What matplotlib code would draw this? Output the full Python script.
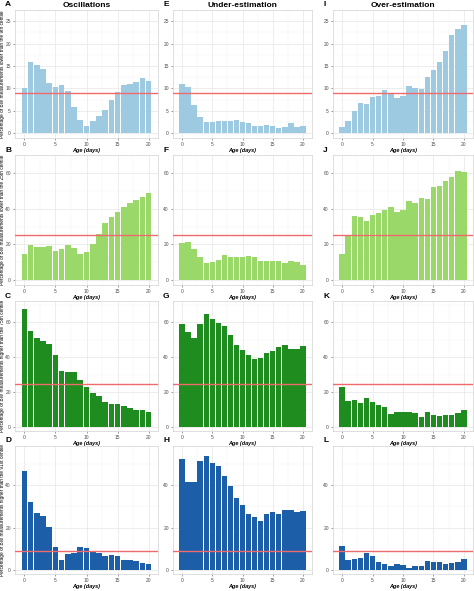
import numpy as np
import matplotlib
matplotlib.use("Agg")
import matplotlib.pyplot as plt

plt.rcParams['font.family'] = ['Liberation Sans', 'DejaVu Sans']

# Data (percentages by age in days)
age = list(range(21))

osc_9 = [10.1, 15.8, 15.2, 14.3, 11.2, 10.2, 10.8, 9.3, 5.9, 3.0, 1.5, 2.6, 3.8, 5.2, 7.3, 9.2, 10.8, 11.0, 11.5, 12.4, 11.7]
under_9 = [11.0, 10.4, 6.2, 3.7, 2.4, 2.4, 2.8, 2.6, 2.6, 2.9, 2.4, 2.2, 1.5, 1.5, 1.7, 1.5, 1.1, 1.3, 2.2, 1.3, 1.5]
over_9 = [1.25, 2.8, 5.0, 6.8, 6.5, 8.1, 8.3, 9.7, 8.9, 7.8, 8.2, 10.5, 10.0, 9.9, 12.5, 14.2, 15.9, 18.3, 21.9, 23.3, 24.2]

osc_25 = [14.5, 19.5, 18.7, 18.4, 19.3, 16.5, 17.5, 19.6, 18.2, 14.4, 15.5, 20.0, 25.8, 32.2, 35.1, 38.2, 40.9, 43.3, 44.7, 46.7, 48.7]
under_25 = [20.9, 21.5, 17.3, 13.1, 9.6, 10.0, 11.5, 13.8, 13.1, 13.1, 12.7, 13.6, 13.1, 10.5, 10.9, 10.5, 10.9, 9.6, 10.5, 10.4, 8.7]
over_25 = [14.9, 25.0, 35.8, 35.6, 33.0, 36.7, 37.5, 39.1, 41.1, 38.4, 39.0, 44.4, 43.1, 46.2, 45.6, 52.1, 52.8, 55.2, 57.7, 61.0, 60.3]

osc_75 = [67.6, 55.1, 51.2, 49.2, 47.7, 41.4, 32.2, 31.3, 31.3, 27.0, 22.9, 19.7, 18.0, 14.5, 13.1, 13.5, 12.1, 10.9, 9.8, 9.8, 9.0]
under_75 = [59.0, 54.1, 51.2, 59.0, 64.8, 61.5, 59.6, 57.6, 52.7, 46.7, 43.9, 41.2, 39.1, 39.6, 42.4, 43.8, 45.9, 46.9, 44.5, 44.7, 46.5]
over_75 = [22.9, 14.8, 15.4, 14.1, 17.0, 14.5, 12.7, 11.9, 7.8, 8.6, 9.0, 8.6, 8.2, 5.9, 8.6, 7.2, 6.8, 7.2, 7.2, 8.2, 10.2]

osc_91 = [46.8, 32.3, 26.8, 25.5, 20.5, 11.1, 4.6, 7.7, 8.0, 10.9, 10.5, 8.9, 8.2, 6.8, 7.2, 6.6, 4.6, 4.6, 4.5, 3.2, 3.1]
under_91 = [52.3, 41.7, 41.5, 51.5, 53.8, 50.5, 48.9, 44.3, 39.5, 34.2, 30.8, 26.5, 24.9, 23.4, 26.3, 27.2, 26.5, 28.2, 28.2, 27.5, 27.8]
over_91 = [11.4, 4.6, 5.4, 5.8, 8.0, 6.5, 4.0, 3.1, 2.2, 2.8, 2.6, 1.2, 2.2, 1.8, 4.2, 3.7, 3.7, 2.9, 3.4, 3.7, 5.1]

col_titles = ['Oscillations', 'Under-estimation', 'Over-estimation']
row_data = [
    [osc_9, under_9, over_9],
    [osc_25, under_25, over_25],
    [osc_75, under_75, over_75],
    [osc_91, under_91, over_91],
]
row_ylabels = [
    'Percentage of BW measurements lower than the 9th centile',
    'Percentage of BW measurements lower than the 25th centile',
    'Percentage of BW measurements higher than the 75th centile',
    'Percentage of BW measurements higher than the 91st centile',
]
row_refs = [9, 25, 25, 9]
row_colors = ['#9ecae1', '#9bd86a', '#1f8c1f', '#1c5ea8']
row_yticks = [[0, 5, 10, 15, 20, 25], [0, 20, 40, 60], [0, 20, 40, 60], [0, 20, 40]]
row_ylim = [(-1.1, 25.6), (-2.7, 68.2), (-2.0, 72.0), (-1.8, 58.5)]
letters = ['A', 'E', 'I', 'B', 'F', 'J', 'C', 'G', 'K', 'D', 'H', 'L']

W, H = 474, 591
fig = plt.figure(figsize=(W / 100, H / 100), dpi=100)

col_x = [(15, 158), (173, 312), (333, 473)]
row_y = [(10, 138), (155, 285), (301, 431), (446, 574)]

for r in range(4):
    for c in range(3):
        x0, x1 = col_x[c]
        y0, y1 = row_y[r]
        ax = fig.add_axes([x0 / W, 1 - y1 / H, (x1 - x0) / W, (y1 - y0) / H])
        ax.set_axisbelow(True)
        ax.bar(age, row_data[r][c], width=0.9, color=row_colors[r], zorder=2)
        ax.axhline(row_refs[r], color='#ef6a6a', lw=1.0, zorder=3)
        ax.set_xlim(-1.5, 21.5)
        ax.set_ylim(*row_ylim[r])
        ax.set_xticks([0, 5, 10, 15, 20])
        ax.set_xticks([2.5, 7.5, 12.5, 17.5], minor=True)
        yt = row_yticks[r]
        ax.set_yticks(yt)
        step = yt[1] - yt[0]
        ax.set_yticks([v + step / 2 for v in yt], minor=True)
        ax.grid(which='major', color='#e6e6e6', lw=0.5)
        ax.grid(which='minor', color='#f2f2f2', lw=0.3)
        for s in ax.spines.values():
            s.set_color('#d9d9d9')
            s.set_linewidth(0.6)
        ax.tick_params(which='major', labelsize=3.5, length=1.5, width=0.4,
                       colors='#4d4d4d', pad=1.5)
        ax.tick_params(which='minor', length=0)
        ax.set_xlabel('Age (days)', fontsize=4, fontweight='bold', style='italic', labelpad=0.5)
        if c == 0:
            ax.set_ylabel(row_ylabels[r], fontsize=3.4)
            ax.yaxis.set_label_coords(-10 / (x1 - x0), 0.5)
        if r == 0:
            ax.set_title(col_titles[c], fontsize=6, fontweight='bold', pad=2)
        fig.text((x0 - 10) / W, 1 - (y0 - 5) / H, letters[r * 3 + c],
                 fontsize=6, fontweight='bold', ha='left', va='center')

fig.savefig('out.png', dpi=100)
